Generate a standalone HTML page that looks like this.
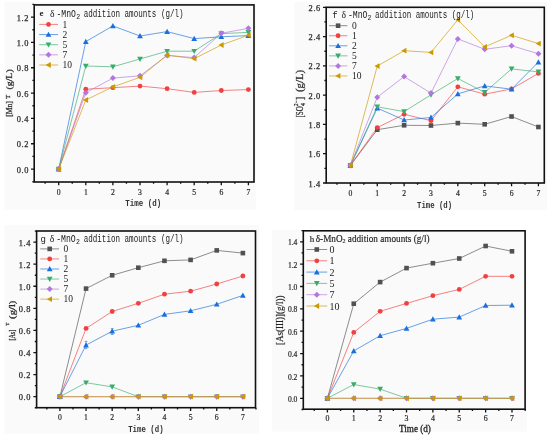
<!DOCTYPE html>
<html><head><meta charset="utf-8"><title>Figure</title>
<style>
html,body{margin:0;padding:0;background:#fff;}
svg{display:block;}
.ytk{font-family:"Liberation Serif",serif;font-size:8.4px;letter-spacing:0.6px;fill:#2a2a2a;stroke:#2a2a2a;stroke-width:0.25px;}
.ytkh{font-family:"Liberation Serif",serif;font-size:7.6px;fill:#2a2a2a;stroke:#2a2a2a;stroke-width:0.2px;}
.tk{font-family:"Liberation Serif",serif;font-size:7.7px;fill:#2a2a2a;stroke:#2a2a2a;stroke-width:0.2px;}
.tkh{font-family:"Liberation Serif",serif;font-size:7.9px;fill:#2a2a2a;stroke:#2a2a2a;stroke-width:0.2px;}
.lg{font-family:"Liberation Serif",serif;font-size:9.5px;fill:#222;}
.lgh{font-family:"Liberation Serif",serif;font-size:10px;fill:#222;}
.lt{font-family:"Liberation Mono","Noto Sans CJK SC",monospace;font-size:10.6px;fill:#222;}
.lth{font-family:"Liberation Serif",serif;font-size:10px;fill:#222;stroke:#222;stroke-width:0.15px;}
.b{font-weight:bold;font-family:"Liberation Serif",serif;font-size:9px;}
.at{font-family:"Liberation Mono",monospace;font-size:8.6px;font-weight:bold;fill:#333;}
.at2{font-family:"Liberation Mono",monospace;font-size:7.6px;fill:#333;}
.yt{font-family:"Liberation Serif",serif;font-size:8.8px;fill:#2a2a2a;stroke:#2a2a2a;stroke-width:0.25px;}
.dl{font-family:"Liberation Serif",serif;font-size:9.6px;fill:#222;}
.ath{font-family:"Liberation Serif",serif;font-size:9.5px;fill:#222;stroke:#222;stroke-width:0.3px;}
.ath2{font-family:"Liberation Serif",serif;font-size:9.5px;fill:#222;stroke:#222;stroke-width:0.15px;}
</style></head>
<body>
<svg width="550" height="437" viewBox="0 0 550 437">
<rect width="550" height="437" fill="#fff"/>
<rect x="4.5" y="2" width="251.5" height="207.6" fill="#fafafa"/>
<rect x="294.5" y="2" width="252.5" height="208" fill="#fafafa"/>
<rect x="4.5" y="225" width="254.5" height="208.5" fill="#fafafa"/>
<rect x="271.7" y="230" width="255.3" height="201.6" fill="#fafafa"/>
<polyline points="58.70,169.10 85.80,89.20 112.90,87.70 140.00,86.10 167.10,88.70 194.20,92.40 221.30,90.50 248.40,89.60" fill="none" stroke="#F14040" stroke-width="0.9" stroke-opacity="0.72"/>
<polyline points="58.70,169.10 85.80,41.60 112.90,25.90 140.00,36.00 167.10,31.60 194.20,38.60 221.30,36.80 248.40,35.60" fill="none" stroke="#1A6FDF" stroke-width="0.9" stroke-opacity="0.72"/>
<polyline points="58.70,169.10 85.80,66.00 112.90,66.80 140.00,59.00 167.10,51.20 194.20,51.20 221.30,33.60 248.40,32.40" fill="none" stroke="#37AD6B" stroke-width="0.9" stroke-opacity="0.72"/>
<polyline points="58.70,169.10 85.80,92.70 112.90,78.10 140.00,75.80 167.10,55.50 194.20,57.60 221.30,33.30 248.40,28.30" fill="none" stroke="#B177DE" stroke-width="0.9" stroke-opacity="0.72"/>
<polyline points="58.70,169.10 85.80,100.00 112.90,86.90 140.00,77.30 167.10,55.10 194.20,58.70 221.30,45.00 248.40,35.20" fill="none" stroke="#CC9900" stroke-width="0.9" stroke-opacity="0.72"/>
<circle cx="58.70" cy="169.10" r="2.42" fill="#F14040"/>
<circle cx="85.80" cy="89.20" r="2.42" fill="#F14040"/>
<circle cx="112.90" cy="87.70" r="2.42" fill="#F14040"/>
<circle cx="140.00" cy="86.10" r="2.42" fill="#F14040"/>
<circle cx="167.10" cy="88.70" r="2.42" fill="#F14040"/>
<circle cx="194.20" cy="92.40" r="2.42" fill="#F14040"/>
<circle cx="221.30" cy="90.50" r="2.42" fill="#F14040"/>
<circle cx="248.40" cy="89.60" r="2.42" fill="#F14040"/>
<polygon points="58.70,166.22 61.58,171.40 55.83,171.40" fill="#1A6FDF"/>
<polygon points="85.80,38.73 88.68,43.90 82.93,43.90" fill="#1A6FDF"/>
<polygon points="112.90,23.02 115.78,28.20 110.03,28.20" fill="#1A6FDF"/>
<polygon points="140.00,33.12 142.88,38.30 137.12,38.30" fill="#1A6FDF"/>
<polygon points="167.10,28.73 169.98,33.90 164.23,33.90" fill="#1A6FDF"/>
<polygon points="194.20,35.73 197.07,40.90 191.32,40.90" fill="#1A6FDF"/>
<polygon points="221.30,33.92 224.18,39.10 218.43,39.10" fill="#1A6FDF"/>
<polygon points="248.40,32.73 251.28,37.90 245.53,37.90" fill="#1A6FDF"/>
<polygon points="58.70,171.97 61.58,166.80 55.83,166.80" fill="#37AD6B"/>
<polygon points="85.80,68.88 88.68,63.70 82.93,63.70" fill="#37AD6B"/>
<polygon points="112.90,69.67 115.78,64.50 110.03,64.50" fill="#37AD6B"/>
<polygon points="140.00,61.88 142.88,56.70 137.12,56.70" fill="#37AD6B"/>
<polygon points="167.10,54.08 169.98,48.90 164.23,48.90" fill="#37AD6B"/>
<polygon points="194.20,54.08 197.07,48.90 191.32,48.90" fill="#37AD6B"/>
<polygon points="221.30,36.48 224.18,31.30 218.43,31.30" fill="#37AD6B"/>
<polygon points="248.40,35.27 251.28,30.10 245.53,30.10" fill="#37AD6B"/>
<polygon points="58.70,166.11 61.69,169.10 58.70,172.09 55.71,169.10" fill="#B177DE"/>
<polygon points="85.80,89.71 88.79,92.70 85.80,95.69 82.81,92.70" fill="#B177DE"/>
<polygon points="112.90,75.11 115.89,78.10 112.90,81.09 109.91,78.10" fill="#B177DE"/>
<polygon points="140.00,72.81 142.99,75.80 140.00,78.79 137.01,75.80" fill="#B177DE"/>
<polygon points="167.10,52.51 170.09,55.50 167.10,58.49 164.11,55.50" fill="#B177DE"/>
<polygon points="194.20,54.61 197.19,57.60 194.20,60.59 191.21,57.60" fill="#B177DE"/>
<polygon points="221.30,30.31 224.29,33.30 221.30,36.29 218.31,33.30" fill="#B177DE"/>
<polygon points="248.40,25.31 251.39,28.30 248.40,31.29 245.41,28.30" fill="#B177DE"/>
<polygon points="55.83,169.10 61.00,166.22 61.00,171.97" fill="#CC9900"/>
<polygon points="82.93,100.00 88.10,97.12 88.10,102.88" fill="#CC9900"/>
<polygon points="110.03,86.90 115.20,84.03 115.20,89.78" fill="#CC9900"/>
<polygon points="137.12,77.30 142.30,74.42 142.30,80.17" fill="#CC9900"/>
<polygon points="164.23,55.10 169.40,52.23 169.40,57.98" fill="#CC9900"/>
<polygon points="191.32,58.70 196.50,55.83 196.50,61.58" fill="#CC9900"/>
<polygon points="218.43,45.00 223.60,42.12 223.60,47.88" fill="#CC9900"/>
<polygon points="245.53,35.20 250.70,32.33 250.70,38.08" fill="#CC9900"/>
<rect x="34.20" y="4.90" width="219.80" height="177.10" fill="none" stroke="#111" stroke-width="1.6"/>
<text x="29.10" y="172.70" class="ytk" text-anchor="end">0.0</text>
<text x="29.10" y="147.37" class="ytk" text-anchor="end">0.2</text>
<text x="29.10" y="122.03" class="ytk" text-anchor="end">0.4</text>
<text x="29.10" y="96.70" class="ytk" text-anchor="end">0.6</text>
<text x="29.10" y="71.36" class="ytk" text-anchor="end">0.8</text>
<text x="29.10" y="46.03" class="ytk" text-anchor="end">1.0</text>
<text x="29.10" y="20.70" class="ytk" text-anchor="end">1.2</text>
<text x="58.70" y="195.00" class="tk" text-anchor="middle">0</text>
<text x="85.80" y="195.00" class="tk" text-anchor="middle">1</text>
<text x="112.90" y="195.00" class="tk" text-anchor="middle">2</text>
<text x="140.00" y="195.00" class="tk" text-anchor="middle">3</text>
<text x="167.10" y="195.00" class="tk" text-anchor="middle">4</text>
<text x="194.20" y="195.00" class="tk" text-anchor="middle">5</text>
<text x="221.30" y="195.00" class="tk" text-anchor="middle">6</text>
<text x="248.40" y="195.00" class="tk" text-anchor="middle">7</text>
<path d="M34.20,181.77h-1.8 M34.20,169.10h-3.2 M34.20,156.43h-1.8 M34.20,143.77h-3.2 M34.20,131.10h-1.8 M34.20,118.43h-3.2 M34.20,105.76h-1.8 M34.20,93.10h-3.2 M34.20,80.43h-1.8 M34.20,67.76h-3.2 M34.20,55.10h-1.8 M34.20,42.43h-3.2 M34.20,29.76h-1.8 M34.20,17.10h-3.2 M34.20,4.43h-1.8 M45.15,182.00v1.8 M58.70,182.00v3.2 M72.25,182.00v1.8 M85.80,182.00v3.2 M99.35,182.00v1.8 M112.90,182.00v3.2 M126.45,182.00v1.8 M140.00,182.00v3.2 M153.55,182.00v1.8 M167.10,182.00v3.2 M180.65,182.00v1.8 M194.20,182.00v3.2 M207.75,182.00v1.8 M221.30,182.00v3.2 M234.85,182.00v1.8 M248.40,182.00v3.2" stroke="#111" stroke-width="1.3" fill="none"/>
<line x1="39.2" y1="24.40" x2="58" y2="24.40" stroke="#F14040" stroke-width="0.9" stroke-opacity="0.72"/>
<circle cx="48.50" cy="24.40" r="2.42" fill="#F14040"/>
<text x="62.5" y="27.60" class="lg">1</text>
<line x1="39.2" y1="34.55" x2="58" y2="34.55" stroke="#1A6FDF" stroke-width="0.9" stroke-opacity="0.72"/>
<polygon points="48.50,31.67 51.38,36.85 45.62,36.85" fill="#1A6FDF"/>
<text x="62.5" y="37.75" class="lg">2</text>
<line x1="39.2" y1="44.70" x2="58" y2="44.70" stroke="#37AD6B" stroke-width="0.9" stroke-opacity="0.72"/>
<polygon points="48.50,47.58 51.38,42.40 45.62,42.40" fill="#37AD6B"/>
<text x="62.5" y="47.90" class="lg">5</text>
<line x1="39.2" y1="54.85" x2="58" y2="54.85" stroke="#B177DE" stroke-width="0.9" stroke-opacity="0.72"/>
<polygon points="48.50,51.86 51.49,54.85 48.50,57.84 45.51,54.85" fill="#B177DE"/>
<text x="62.5" y="58.05" class="lg">7</text>
<line x1="39.2" y1="65.00" x2="58" y2="65.00" stroke="#CC9900" stroke-width="0.9" stroke-opacity="0.72"/>
<polygon points="45.62,65.00 50.80,62.12 50.80,67.88" fill="#CC9900"/>
<text x="62.5" y="68.20" class="lg">10</text>
<text x="39.6" y="15.8" class="lt b">e</text><text x="50" y="17.2" class="dl">δ</text><text x="56.5" y="17.2" class="lt" textLength="19.5" lengthAdjust="spacingAndGlyphs">-MnO</text><text x="76.2" y="19.2" class="lt" style="font-size:6.5px">2</text><text x="83.7" y="17.2" class="lt" textLength="99.9" lengthAdjust="spacingAndGlyphs">addition amounts (g/l)</text>
<text x="143.3" y="206.3" class="at" text-anchor="middle" textLength="36" lengthAdjust="spacingAndGlyphs">Time (d)</text>
<g transform="translate(12.3,0) rotate(-90)" class="yt"><text x="-116.8" y="0" textLength="15.7" lengthAdjust="spacingAndGlyphs" style="font-size:8.6px">[Mn]</text><text x="-98.7" y="-2.3" style="font-size:6.4px">T</text><text x="-89.6" y="0" textLength="20.3" lengthAdjust="spacingAndGlyphs" style="font-size:8.6px">(g/L)</text></g>
<polyline points="350.40,165.40 377.26,129.70 404.12,125.30 430.98,125.50 457.84,123.10 484.70,124.30 511.56,116.50 538.42,127.00" fill="none" stroke="#515151" stroke-width="0.9" stroke-opacity="0.72"/>
<polyline points="350.40,165.40 377.26,127.60 404.12,114.30 430.98,120.70 457.84,86.80 484.70,94.20 511.56,88.90 538.42,73.40" fill="none" stroke="#F14040" stroke-width="0.9" stroke-opacity="0.72"/>
<polyline points="350.40,165.40 377.26,108.10 404.12,120.00 430.98,117.50 457.84,93.90 484.70,85.90 511.56,89.20 538.42,62.10" fill="none" stroke="#1A6FDF" stroke-width="0.9" stroke-opacity="0.72"/>
<polyline points="350.40,165.40 377.26,106.80 404.12,111.60 430.98,94.80 457.84,78.50 484.70,92.40 511.56,68.90 538.42,71.90" fill="none" stroke="#37AD6B" stroke-width="0.9" stroke-opacity="0.72"/>
<polyline points="350.40,165.40 377.26,97.20 404.12,76.60 430.98,93.10 457.84,38.90 484.70,49.30 511.56,45.70 538.42,53.75" fill="none" stroke="#B177DE" stroke-width="0.9" stroke-opacity="0.72"/>
<polyline points="350.40,165.40 377.26,66.10 404.12,50.70 430.98,52.40 457.84,19.80 484.70,46.90 511.56,35.30 538.42,43.60" fill="none" stroke="#CC9900" stroke-width="0.9" stroke-opacity="0.72"/>
<rect x="348.10" y="163.10" width="4.60" height="4.60" fill="#515151"/>
<rect x="374.96" y="127.40" width="4.60" height="4.60" fill="#515151"/>
<rect x="401.82" y="123.00" width="4.60" height="4.60" fill="#515151"/>
<rect x="428.68" y="123.20" width="4.60" height="4.60" fill="#515151"/>
<rect x="455.54" y="120.80" width="4.60" height="4.60" fill="#515151"/>
<rect x="482.40" y="122.00" width="4.60" height="4.60" fill="#515151"/>
<rect x="509.26" y="114.20" width="4.60" height="4.60" fill="#515151"/>
<rect x="536.12" y="124.70" width="4.60" height="4.60" fill="#515151"/>
<circle cx="350.40" cy="165.40" r="2.42" fill="#F14040"/>
<circle cx="377.26" cy="127.60" r="2.42" fill="#F14040"/>
<circle cx="404.12" cy="114.30" r="2.42" fill="#F14040"/>
<circle cx="430.98" cy="120.70" r="2.42" fill="#F14040"/>
<circle cx="457.84" cy="86.80" r="2.42" fill="#F14040"/>
<circle cx="484.70" cy="94.20" r="2.42" fill="#F14040"/>
<circle cx="511.56" cy="88.90" r="2.42" fill="#F14040"/>
<circle cx="538.42" cy="73.40" r="2.42" fill="#F14040"/>
<polygon points="350.40,162.53 353.27,167.70 347.52,167.70" fill="#1A6FDF"/>
<polygon points="377.26,105.22 380.13,110.40 374.38,110.40" fill="#1A6FDF"/>
<polygon points="404.12,117.12 407.00,122.30 401.25,122.30" fill="#1A6FDF"/>
<polygon points="430.98,114.62 433.85,119.80 428.10,119.80" fill="#1A6FDF"/>
<polygon points="457.84,91.03 460.71,96.20 454.96,96.20" fill="#1A6FDF"/>
<polygon points="484.70,83.03 487.57,88.20 481.82,88.20" fill="#1A6FDF"/>
<polygon points="511.56,86.33 514.43,91.50 508.68,91.50" fill="#1A6FDF"/>
<polygon points="538.42,59.23 541.29,64.40 535.54,64.40" fill="#1A6FDF"/>
<polygon points="350.40,168.28 353.27,163.10 347.52,163.10" fill="#37AD6B"/>
<polygon points="377.26,109.67 380.13,104.50 374.38,104.50" fill="#37AD6B"/>
<polygon points="404.12,114.47 407.00,109.30 401.25,109.30" fill="#37AD6B"/>
<polygon points="430.98,97.67 433.85,92.50 428.10,92.50" fill="#37AD6B"/>
<polygon points="457.84,81.38 460.71,76.20 454.96,76.20" fill="#37AD6B"/>
<polygon points="484.70,95.28 487.57,90.10 481.82,90.10" fill="#37AD6B"/>
<polygon points="511.56,71.78 514.43,66.60 508.68,66.60" fill="#37AD6B"/>
<polygon points="538.42,74.78 541.29,69.60 535.54,69.60" fill="#37AD6B"/>
<polygon points="350.40,162.41 353.39,165.40 350.40,168.39 347.41,165.40" fill="#B177DE"/>
<polygon points="377.26,94.21 380.25,97.20 377.26,100.19 374.27,97.20" fill="#B177DE"/>
<polygon points="404.12,73.61 407.11,76.60 404.12,79.59 401.13,76.60" fill="#B177DE"/>
<polygon points="430.98,90.11 433.97,93.10 430.98,96.09 427.99,93.10" fill="#B177DE"/>
<polygon points="457.84,35.91 460.83,38.90 457.84,41.89 454.85,38.90" fill="#B177DE"/>
<polygon points="484.70,46.31 487.69,49.30 484.70,52.29 481.71,49.30" fill="#B177DE"/>
<polygon points="511.56,42.71 514.55,45.70 511.56,48.69 508.57,45.70" fill="#B177DE"/>
<polygon points="538.42,50.76 541.41,53.75 538.42,56.74 535.43,53.75" fill="#B177DE"/>
<polygon points="347.52,165.40 352.70,162.53 352.70,168.28" fill="#CC9900"/>
<polygon points="374.38,66.10 379.56,63.22 379.56,68.97" fill="#CC9900"/>
<polygon points="401.25,50.70 406.42,47.83 406.42,53.58" fill="#CC9900"/>
<polygon points="428.10,52.40 433.28,49.52 433.28,55.27" fill="#CC9900"/>
<polygon points="454.96,19.80 460.14,16.93 460.14,22.68" fill="#CC9900"/>
<polygon points="481.82,46.90 487.00,44.02 487.00,49.77" fill="#CC9900"/>
<polygon points="508.68,35.30 513.86,32.42 513.86,38.17" fill="#CC9900"/>
<polygon points="535.54,43.60 540.72,40.73 540.72,46.48" fill="#CC9900"/>
<rect x="326.20" y="7.30" width="218.10" height="175.70" fill="none" stroke="#111" stroke-width="1.6"/>
<text x="320.90" y="186.60" class="ytk" text-anchor="end">1.4</text>
<text x="320.90" y="157.32" class="ytk" text-anchor="end">1.6</text>
<text x="320.90" y="128.04" class="ytk" text-anchor="end">1.8</text>
<text x="320.90" y="98.76" class="ytk" text-anchor="end">2.0</text>
<text x="320.90" y="69.48" class="ytk" text-anchor="end">2.2</text>
<text x="320.90" y="40.20" class="ytk" text-anchor="end">2.4</text>
<text x="320.90" y="10.92" class="ytk" text-anchor="end">2.6</text>
<text x="350.40" y="195.50" class="tk" text-anchor="middle">0</text>
<text x="377.26" y="195.50" class="tk" text-anchor="middle">1</text>
<text x="404.12" y="195.50" class="tk" text-anchor="middle">2</text>
<text x="430.98" y="195.50" class="tk" text-anchor="middle">3</text>
<text x="457.84" y="195.50" class="tk" text-anchor="middle">4</text>
<text x="484.70" y="195.50" class="tk" text-anchor="middle">5</text>
<text x="511.56" y="195.50" class="tk" text-anchor="middle">6</text>
<text x="538.42" y="195.50" class="tk" text-anchor="middle">7</text>
<path d="M326.20,183.00h-3.2 M326.20,168.36h-1.8 M326.20,153.72h-3.2 M326.20,139.08h-1.8 M326.20,124.44h-3.2 M326.20,109.80h-1.8 M326.20,95.16h-3.2 M326.20,80.52h-1.8 M326.20,65.88h-3.2 M326.20,51.24h-1.8 M326.20,36.60h-3.2 M326.20,21.96h-1.8 M326.20,7.32h-3.2 M336.97,183.00v1.8 M350.40,183.00v3.2 M363.83,183.00v1.8 M377.26,183.00v3.2 M390.69,183.00v1.8 M404.12,183.00v3.2 M417.55,183.00v1.8 M430.98,183.00v3.2 M444.41,183.00v1.8 M457.84,183.00v3.2 M471.27,183.00v1.8 M484.70,183.00v3.2 M498.13,183.00v1.8 M511.56,183.00v3.2 M524.99,183.00v1.8 M538.42,183.00v3.2" stroke="#111" stroke-width="1.3" fill="none"/>
<line x1="329" y1="25.70" x2="347.4" y2="25.70" stroke="#515151" stroke-width="0.9" stroke-opacity="0.72"/>
<rect x="335.80" y="23.40" width="4.60" height="4.60" fill="#515151"/>
<text x="351.9" y="28.90" class="lg">0</text>
<line x1="329" y1="35.75" x2="347.4" y2="35.75" stroke="#F14040" stroke-width="0.9" stroke-opacity="0.72"/>
<circle cx="338.10" cy="35.75" r="2.42" fill="#F14040"/>
<text x="351.9" y="38.95" class="lg">1</text>
<line x1="329" y1="45.80" x2="347.4" y2="45.80" stroke="#1A6FDF" stroke-width="0.9" stroke-opacity="0.72"/>
<polygon points="338.10,42.92 340.98,48.10 335.23,48.10" fill="#1A6FDF"/>
<text x="351.9" y="49.00" class="lg">2</text>
<line x1="329" y1="55.85" x2="347.4" y2="55.85" stroke="#37AD6B" stroke-width="0.9" stroke-opacity="0.72"/>
<polygon points="338.10,58.73 340.98,53.55 335.23,53.55" fill="#37AD6B"/>
<text x="351.9" y="59.05" class="lg">5</text>
<line x1="329" y1="65.90" x2="347.4" y2="65.90" stroke="#B177DE" stroke-width="0.9" stroke-opacity="0.72"/>
<polygon points="338.10,62.91 341.09,65.90 338.10,68.89 335.11,65.90" fill="#B177DE"/>
<text x="351.9" y="69.10" class="lg">7</text>
<line x1="329" y1="75.95" x2="347.4" y2="75.95" stroke="#CC9900" stroke-width="0.9" stroke-opacity="0.72"/>
<polygon points="335.23,75.95 340.40,73.08 340.40,78.83" fill="#CC9900"/>
<text x="351.9" y="79.15" class="lg">10</text>
<text x="332.2" y="18.4" class="lt" style="font-size:9px">f</text><text x="341.4" y="18.4" class="dl">δ</text><text x="347.9" y="18.4" class="lt" textLength="19.5" lengthAdjust="spacingAndGlyphs">-MnO</text><text x="367.59999999999997" y="20.4" class="lt" style="font-size:6.5px">2</text><text x="375.1" y="18.4" class="lt" textLength="99.3" lengthAdjust="spacingAndGlyphs">addition amounts (g/l)</text>
<text x="434.6" y="207.7" class="at" text-anchor="middle" textLength="35" lengthAdjust="spacingAndGlyphs">Time (d)</text>
<g transform="translate(302.6,0) rotate(-90)" class="yt"><text x="-117.5" y="0" textLength="11.4" lengthAdjust="spacingAndGlyphs" style="font-size:9.8px">[SO</text><text x="-105.9" y="1.9" style="font-size:5.8px">4</text><text x="-105.9" y="-4.4" textLength="5.4" lengthAdjust="spacingAndGlyphs" style="font-size:5.8px">2−</text><text x="-99.9" y="0" style="font-size:9.8px">]</text><text x="-92.0" y="0" textLength="22.2" lengthAdjust="spacingAndGlyphs" style="font-size:9.8px">(g/L)</text></g>
<polyline points="59.90,396.70 86.04,288.60 112.18,275.30 138.32,267.70 164.46,260.80 190.60,259.90 216.74,250.40 242.88,253.10" fill="none" stroke="#515151" stroke-width="0.9" stroke-opacity="0.72"/>
<polyline points="59.90,396.70 86.04,328.40 112.18,311.50 138.32,303.30 164.46,294.20 190.60,291.20 216.74,284.00 242.88,276.00" fill="none" stroke="#F14040" stroke-width="0.9" stroke-opacity="0.72"/>
<polyline points="59.90,396.70 86.04,345.10 112.18,331.20 138.32,325.30 164.46,314.40 190.60,310.80 216.74,304.30 242.88,295.40" fill="none" stroke="#1A6FDF" stroke-width="0.9" stroke-opacity="0.72"/>
<polyline points="59.90,396.70 86.04,382.70 112.18,386.90 138.32,396.70 164.46,396.70 190.60,396.70 216.74,396.70 242.88,396.70" fill="none" stroke="#37AD6B" stroke-width="0.9" stroke-opacity="0.72"/>
<polyline points="59.90,396.70 86.04,396.70 112.18,396.70 138.32,396.70 164.46,396.70 190.60,396.70 216.74,396.70 242.88,396.70" fill="none" stroke="#B177DE" stroke-width="0.9" stroke-opacity="0.72"/>
<polyline points="59.90,396.70 86.04,396.70 112.18,396.70 138.32,396.70 164.46,396.70 190.60,396.70 216.74,396.70 242.88,396.70" fill="none" stroke="#CC9900" stroke-width="0.9" stroke-opacity="0.72"/>
<rect x="57.60" y="394.40" width="4.60" height="4.60" fill="#515151"/>
<rect x="83.74" y="286.30" width="4.60" height="4.60" fill="#515151"/>
<rect x="109.88" y="273.00" width="4.60" height="4.60" fill="#515151"/>
<rect x="136.02" y="265.40" width="4.60" height="4.60" fill="#515151"/>
<rect x="162.16" y="258.50" width="4.60" height="4.60" fill="#515151"/>
<rect x="188.30" y="257.60" width="4.60" height="4.60" fill="#515151"/>
<rect x="214.44" y="248.10" width="4.60" height="4.60" fill="#515151"/>
<rect x="240.58" y="250.80" width="4.60" height="4.60" fill="#515151"/>
<circle cx="59.90" cy="396.70" r="2.42" fill="#F14040"/>
<circle cx="86.04" cy="328.40" r="2.42" fill="#F14040"/>
<circle cx="112.18" cy="311.50" r="2.42" fill="#F14040"/>
<circle cx="138.32" cy="303.30" r="2.42" fill="#F14040"/>
<circle cx="164.46" cy="294.20" r="2.42" fill="#F14040"/>
<circle cx="190.60" cy="291.20" r="2.42" fill="#F14040"/>
<circle cx="216.74" cy="284.00" r="2.42" fill="#F14040"/>
<circle cx="242.88" cy="276.00" r="2.42" fill="#F14040"/>
<polygon points="59.90,393.82 62.77,399.00 57.02,399.00" fill="#1A6FDF"/>
<polygon points="86.04,342.23 88.91,347.40 83.16,347.40" fill="#1A6FDF"/>
<polygon points="112.18,328.32 115.06,333.50 109.31,333.50" fill="#1A6FDF"/>
<polygon points="138.32,322.43 141.19,327.60 135.44,327.60" fill="#1A6FDF"/>
<polygon points="164.46,311.52 167.34,316.70 161.59,316.70" fill="#1A6FDF"/>
<polygon points="190.60,307.93 193.47,313.10 187.72,313.10" fill="#1A6FDF"/>
<polygon points="216.74,301.43 219.62,306.60 213.87,306.60" fill="#1A6FDF"/>
<polygon points="242.88,292.52 245.76,297.70 240.01,297.70" fill="#1A6FDF"/>
<polygon points="59.90,399.57 62.77,394.40 57.02,394.40" fill="#37AD6B"/>
<polygon points="86.04,385.57 88.91,380.40 83.16,380.40" fill="#37AD6B"/>
<polygon points="112.18,389.77 115.06,384.60 109.31,384.60" fill="#37AD6B"/>
<polygon points="138.32,399.57 141.19,394.40 135.44,394.40" fill="#37AD6B"/>
<polygon points="164.46,399.57 167.34,394.40 161.59,394.40" fill="#37AD6B"/>
<polygon points="190.60,399.57 193.47,394.40 187.72,394.40" fill="#37AD6B"/>
<polygon points="216.74,399.57 219.62,394.40 213.87,394.40" fill="#37AD6B"/>
<polygon points="242.88,399.57 245.76,394.40 240.01,394.40" fill="#37AD6B"/>
<polygon points="59.90,393.71 62.89,396.70 59.90,399.69 56.91,396.70" fill="#B177DE"/>
<polygon points="86.04,393.71 89.03,396.70 86.04,399.69 83.05,396.70" fill="#B177DE"/>
<polygon points="112.18,393.71 115.17,396.70 112.18,399.69 109.19,396.70" fill="#B177DE"/>
<polygon points="138.32,393.71 141.31,396.70 138.32,399.69 135.33,396.70" fill="#B177DE"/>
<polygon points="164.46,393.71 167.45,396.70 164.46,399.69 161.47,396.70" fill="#B177DE"/>
<polygon points="190.60,393.71 193.59,396.70 190.60,399.69 187.61,396.70" fill="#B177DE"/>
<polygon points="216.74,393.71 219.73,396.70 216.74,399.69 213.75,396.70" fill="#B177DE"/>
<polygon points="242.88,393.71 245.87,396.70 242.88,399.69 239.89,396.70" fill="#B177DE"/>
<polygon points="57.02,396.70 62.20,393.82 62.20,399.57" fill="#CC9900"/>
<polygon points="83.16,396.70 88.34,393.82 88.34,399.57" fill="#CC9900"/>
<polygon points="109.31,396.70 114.48,393.82 114.48,399.57" fill="#CC9900"/>
<polygon points="135.44,396.70 140.62,393.82 140.62,399.57" fill="#CC9900"/>
<polygon points="161.59,396.70 166.76,393.82 166.76,399.57" fill="#CC9900"/>
<polygon points="187.72,396.70 192.90,393.82 192.90,399.57" fill="#CC9900"/>
<polygon points="213.87,396.70 219.04,393.82 219.04,399.57" fill="#CC9900"/>
<polygon points="240.01,396.70 245.18,393.82 245.18,399.57" fill="#CC9900"/>
<rect x="36.60" y="231.00" width="218.90" height="176.70" fill="none" stroke="#111" stroke-width="1.6"/>
<text x="31.00" y="400.30" class="ytk" text-anchor="end">0.0</text>
<text x="31.00" y="378.21" class="ytk" text-anchor="end">0.2</text>
<text x="31.00" y="356.13" class="ytk" text-anchor="end">0.4</text>
<text x="31.00" y="334.04" class="ytk" text-anchor="end">0.6</text>
<text x="31.00" y="311.96" class="ytk" text-anchor="end">0.8</text>
<text x="31.00" y="289.87" class="ytk" text-anchor="end">1.0</text>
<text x="31.00" y="267.78" class="ytk" text-anchor="end">1.2</text>
<text x="31.00" y="245.70" class="ytk" text-anchor="end">1.4</text>
<text x="59.90" y="420.30" class="tk" text-anchor="middle">0</text>
<text x="86.04" y="420.30" class="tk" text-anchor="middle">1</text>
<text x="112.18" y="420.30" class="tk" text-anchor="middle">2</text>
<text x="138.32" y="420.30" class="tk" text-anchor="middle">3</text>
<text x="164.46" y="420.30" class="tk" text-anchor="middle">4</text>
<text x="190.60" y="420.30" class="tk" text-anchor="middle">5</text>
<text x="216.74" y="420.30" class="tk" text-anchor="middle">6</text>
<text x="242.88" y="420.30" class="tk" text-anchor="middle">7</text>
<path d="M36.60,407.74h-1.8 M36.60,396.70h-3.2 M36.60,385.66h-1.8 M36.60,374.61h-3.2 M36.60,363.57h-1.8 M36.60,352.53h-3.2 M36.60,341.49h-1.8 M36.60,330.44h-3.2 M36.60,319.40h-1.8 M36.60,308.36h-3.2 M36.60,297.31h-1.8 M36.60,286.27h-3.2 M36.60,275.23h-1.8 M36.60,264.18h-3.2 M36.60,253.14h-1.8 M36.60,242.10h-3.2 M36.60,231.05h-1.8 M46.83,407.70v1.8 M59.90,407.70v3.2 M72.97,407.70v1.8 M86.04,407.70v3.2 M99.11,407.70v1.8 M112.18,407.70v3.2 M125.25,407.70v1.8 M138.32,407.70v3.2 M151.39,407.70v1.8 M164.46,407.70v3.2 M177.53,407.70v1.8 M190.60,407.70v3.2 M203.67,407.70v1.8 M216.74,407.70v3.2 M229.81,407.70v1.8 M242.88,407.70v3.2 M255.95,407.70v1.8" stroke="#111" stroke-width="1.3" fill="none"/>
<line x1="40.3" y1="248.90" x2="59" y2="248.90" stroke="#515151" stroke-width="0.9" stroke-opacity="0.72"/>
<rect x="47.40" y="246.60" width="4.60" height="4.60" fill="#515151"/>
<text x="63.5" y="252.10" class="lg">0</text>
<line x1="40.3" y1="258.95" x2="59" y2="258.95" stroke="#F14040" stroke-width="0.9" stroke-opacity="0.72"/>
<circle cx="49.70" cy="258.95" r="2.42" fill="#F14040"/>
<text x="63.5" y="262.15" class="lg">1</text>
<line x1="40.3" y1="269.00" x2="59" y2="269.00" stroke="#1A6FDF" stroke-width="0.9" stroke-opacity="0.72"/>
<polygon points="49.70,266.12 52.58,271.30 46.83,271.30" fill="#1A6FDF"/>
<text x="63.5" y="272.20" class="lg">2</text>
<line x1="40.3" y1="279.05" x2="59" y2="279.05" stroke="#37AD6B" stroke-width="0.9" stroke-opacity="0.72"/>
<polygon points="49.70,281.93 52.58,276.75 46.83,276.75" fill="#37AD6B"/>
<text x="63.5" y="282.25" class="lg">5</text>
<line x1="40.3" y1="289.10" x2="59" y2="289.10" stroke="#B177DE" stroke-width="0.9" stroke-opacity="0.72"/>
<polygon points="49.70,286.11 52.69,289.10 49.70,292.09 46.71,289.10" fill="#B177DE"/>
<text x="63.5" y="292.30" class="lg">7</text>
<line x1="40.3" y1="299.15" x2="59" y2="299.15" stroke="#CC9900" stroke-width="0.9" stroke-opacity="0.72"/>
<polygon points="46.83,299.15 52.00,296.27 52.00,302.02" fill="#CC9900"/>
<text x="63.5" y="302.35" class="lg">10</text>
<text x="40.4" y="241.9" class="lt" style="font-size:9px">g</text><text x="49.7" y="241.9" class="dl">δ</text><text x="56.2" y="241.9" class="lt" textLength="19.5" lengthAdjust="spacingAndGlyphs">-MnO</text><text x="75.9" y="243.9" class="lt" style="font-size:6.5px">2</text><text x="83.7" y="241.9" class="lt" textLength="99.9" lengthAdjust="spacingAndGlyphs">addition amounts (g/l)</text>
<path d="M86.0,341.4V348.6M84.6,341.4h2.8M84.6,348.6h2.8M112.2,328.6V334.5M110.8,328.6h2.8M110.8,334.5h2.8" stroke="#1A6FDF" stroke-width="0.7" stroke-opacity="0.8" fill="none"/>
<text x="145.9" y="431.6" class="at" text-anchor="middle" textLength="35.4" lengthAdjust="spacingAndGlyphs">Time (d)</text>
<g transform="translate(15.2,0) rotate(-90)" class="yt" style="font-size:7.6px"><text x="-340.6" y="0" textLength="10.9" lengthAdjust="spacingAndGlyphs" style="font-size:7.6px">[As]</text><text x="-325.8" y="-5.8" style="font-size:5px">T</text><text x="-318.9" y="0" textLength="18.3" lengthAdjust="spacingAndGlyphs" style="font-size:7.6px">(g/l)</text></g>
<polyline points="327.40,398.30 353.77,303.70 380.14,282.10 406.51,268.10 432.88,263.20 459.25,258.50 485.62,246.00 511.99,251.30" fill="none" stroke="#515151" stroke-width="0.9" stroke-opacity="0.72"/>
<polyline points="327.40,398.30 353.77,332.40 380.14,311.30 406.51,303.40 432.88,295.70 459.25,289.40 485.62,276.30 511.99,276.30" fill="none" stroke="#F14040" stroke-width="0.9" stroke-opacity="0.72"/>
<polyline points="327.40,398.30 353.77,350.90 380.14,335.70 406.51,328.40 432.88,319.20 459.25,317.10 485.62,305.50 511.99,305.20" fill="none" stroke="#1A6FDF" stroke-width="0.9" stroke-opacity="0.72"/>
<polyline points="327.40,398.30 353.77,384.50 380.14,389.10 406.51,398.30 432.88,398.30 459.25,398.30 485.62,398.30 511.99,398.30" fill="none" stroke="#37AD6B" stroke-width="0.9" stroke-opacity="0.72"/>
<polyline points="327.40,398.30 353.77,398.30 380.14,398.30 406.51,398.30 432.88,398.30 459.25,398.30 485.62,398.30 511.99,398.30" fill="none" stroke="#B177DE" stroke-width="0.9" stroke-opacity="0.72"/>
<polyline points="327.40,398.30 353.77,398.30 380.14,398.30 406.51,398.30 432.88,398.30 459.25,398.30 485.62,398.30 511.99,398.30" fill="none" stroke="#CC9900" stroke-width="0.9" stroke-opacity="0.72"/>
<rect x="325.10" y="396.00" width="4.60" height="4.60" fill="#515151"/>
<rect x="351.47" y="301.40" width="4.60" height="4.60" fill="#515151"/>
<rect x="377.84" y="279.80" width="4.60" height="4.60" fill="#515151"/>
<rect x="404.21" y="265.80" width="4.60" height="4.60" fill="#515151"/>
<rect x="430.58" y="260.90" width="4.60" height="4.60" fill="#515151"/>
<rect x="456.95" y="256.20" width="4.60" height="4.60" fill="#515151"/>
<rect x="483.32" y="243.70" width="4.60" height="4.60" fill="#515151"/>
<rect x="509.69" y="249.00" width="4.60" height="4.60" fill="#515151"/>
<circle cx="327.40" cy="398.30" r="2.42" fill="#F14040"/>
<circle cx="353.77" cy="332.40" r="2.42" fill="#F14040"/>
<circle cx="380.14" cy="311.30" r="2.42" fill="#F14040"/>
<circle cx="406.51" cy="303.40" r="2.42" fill="#F14040"/>
<circle cx="432.88" cy="295.70" r="2.42" fill="#F14040"/>
<circle cx="459.25" cy="289.40" r="2.42" fill="#F14040"/>
<circle cx="485.62" cy="276.30" r="2.42" fill="#F14040"/>
<circle cx="511.99" cy="276.30" r="2.42" fill="#F14040"/>
<polygon points="327.40,395.43 330.27,400.60 324.52,400.60" fill="#1A6FDF"/>
<polygon points="353.77,348.02 356.64,353.20 350.89,353.20" fill="#1A6FDF"/>
<polygon points="380.14,332.82 383.01,338.00 377.26,338.00" fill="#1A6FDF"/>
<polygon points="406.51,325.52 409.38,330.70 403.63,330.70" fill="#1A6FDF"/>
<polygon points="432.88,316.32 435.75,321.50 430.00,321.50" fill="#1A6FDF"/>
<polygon points="459.25,314.23 462.12,319.40 456.38,319.40" fill="#1A6FDF"/>
<polygon points="485.62,302.62 488.50,307.80 482.75,307.80" fill="#1A6FDF"/>
<polygon points="511.99,302.32 514.87,307.50 509.12,307.50" fill="#1A6FDF"/>
<polygon points="327.40,401.18 330.27,396.00 324.52,396.00" fill="#37AD6B"/>
<polygon points="353.77,387.38 356.64,382.20 350.89,382.20" fill="#37AD6B"/>
<polygon points="380.14,391.98 383.01,386.80 377.26,386.80" fill="#37AD6B"/>
<polygon points="406.51,401.18 409.38,396.00 403.63,396.00" fill="#37AD6B"/>
<polygon points="432.88,401.18 435.75,396.00 430.00,396.00" fill="#37AD6B"/>
<polygon points="459.25,401.18 462.12,396.00 456.38,396.00" fill="#37AD6B"/>
<polygon points="485.62,401.18 488.50,396.00 482.75,396.00" fill="#37AD6B"/>
<polygon points="511.99,401.18 514.87,396.00 509.12,396.00" fill="#37AD6B"/>
<polygon points="327.40,395.31 330.39,398.30 327.40,401.29 324.41,398.30" fill="#B177DE"/>
<polygon points="353.77,395.31 356.76,398.30 353.77,401.29 350.78,398.30" fill="#B177DE"/>
<polygon points="380.14,395.31 383.13,398.30 380.14,401.29 377.15,398.30" fill="#B177DE"/>
<polygon points="406.51,395.31 409.50,398.30 406.51,401.29 403.52,398.30" fill="#B177DE"/>
<polygon points="432.88,395.31 435.87,398.30 432.88,401.29 429.89,398.30" fill="#B177DE"/>
<polygon points="459.25,395.31 462.24,398.30 459.25,401.29 456.26,398.30" fill="#B177DE"/>
<polygon points="485.62,395.31 488.61,398.30 485.62,401.29 482.63,398.30" fill="#B177DE"/>
<polygon points="511.99,395.31 514.98,398.30 511.99,401.29 509.00,398.30" fill="#B177DE"/>
<polygon points="324.52,398.30 329.70,395.43 329.70,401.18" fill="#CC9900"/>
<polygon points="350.89,398.30 356.07,395.43 356.07,401.18" fill="#CC9900"/>
<polygon points="377.26,398.30 382.44,395.43 382.44,401.18" fill="#CC9900"/>
<polygon points="403.63,398.30 408.81,395.43 408.81,401.18" fill="#CC9900"/>
<polygon points="430.00,398.30 435.18,395.43 435.18,401.18" fill="#CC9900"/>
<polygon points="456.38,398.30 461.55,395.43 461.55,401.18" fill="#CC9900"/>
<polygon points="482.75,398.30 487.92,395.43 487.92,401.18" fill="#CC9900"/>
<polygon points="509.12,398.30 514.29,395.43 514.29,401.18" fill="#CC9900"/>
<rect x="303.30" y="230.80" width="221.80" height="178.40" fill="none" stroke="#111" stroke-width="1.6"/>
<text x="297.40" y="401.90" class="ytkh" text-anchor="end">0.0</text>
<text x="297.40" y="379.54" class="ytkh" text-anchor="end">0.2</text>
<text x="297.40" y="357.18" class="ytkh" text-anchor="end">0.4</text>
<text x="297.40" y="334.82" class="ytkh" text-anchor="end">0.6</text>
<text x="297.40" y="312.46" class="ytkh" text-anchor="end">0.8</text>
<text x="297.40" y="290.10" class="ytkh" text-anchor="end">1.0</text>
<text x="297.40" y="267.74" class="ytkh" text-anchor="end">1.2</text>
<text x="297.40" y="245.38" class="ytkh" text-anchor="end">1.4</text>
<text x="327.40" y="421.30" class="tkh" text-anchor="middle">0</text>
<text x="353.77" y="421.30" class="tkh" text-anchor="middle">1</text>
<text x="380.14" y="421.30" class="tkh" text-anchor="middle">2</text>
<text x="406.51" y="421.30" class="tkh" text-anchor="middle">3</text>
<text x="432.88" y="421.30" class="tkh" text-anchor="middle">4</text>
<text x="459.25" y="421.30" class="tkh" text-anchor="middle">5</text>
<text x="485.62" y="421.30" class="tkh" text-anchor="middle">6</text>
<text x="511.99" y="421.30" class="tkh" text-anchor="middle">7</text>
<path d="M303.30,409.48h-1.8 M303.30,398.30h-3.2 M303.30,387.12h-1.8 M303.30,375.94h-3.2 M303.30,364.76h-1.8 M303.30,353.58h-3.2 M303.30,342.40h-1.8 M303.30,331.22h-3.2 M303.30,320.04h-1.8 M303.30,308.86h-3.2 M303.30,297.68h-1.8 M303.30,286.50h-3.2 M303.30,275.32h-1.8 M303.30,264.14h-3.2 M303.30,252.96h-1.8 M303.30,241.78h-3.2 M303.30,230.60h-1.8 M314.21,409.20v1.8 M327.40,409.20v3.2 M340.58,409.20v1.8 M353.77,409.20v3.2 M366.95,409.20v1.8 M380.14,409.20v3.2 M393.32,409.20v1.8 M406.51,409.20v3.2 M419.69,409.20v1.8 M432.88,409.20v3.2 M446.06,409.20v1.8 M459.25,409.20v3.2 M472.43,409.20v1.8 M485.62,409.20v3.2 M498.80,409.20v1.8 M511.99,409.20v3.2 M525.17,409.20v1.8" stroke="#111" stroke-width="1.3" fill="none"/>
<line x1="306.4" y1="249.50" x2="327.2" y2="249.50" stroke="#515151" stroke-width="0.9" stroke-opacity="0.72"/>
<rect x="314.50" y="247.20" width="4.60" height="4.60" fill="#515151"/>
<text x="329.6" y="253.00" class="lgh">0</text>
<line x1="306.4" y1="260.80" x2="327.2" y2="260.80" stroke="#F14040" stroke-width="0.9" stroke-opacity="0.72"/>
<circle cx="316.80" cy="260.80" r="2.42" fill="#F14040"/>
<text x="329.6" y="264.30" class="lgh">1</text>
<line x1="306.4" y1="272.10" x2="327.2" y2="272.10" stroke="#1A6FDF" stroke-width="0.9" stroke-opacity="0.72"/>
<polygon points="316.80,269.23 319.68,274.40 313.93,274.40" fill="#1A6FDF"/>
<text x="329.6" y="275.60" class="lgh">2</text>
<line x1="306.4" y1="283.40" x2="327.2" y2="283.40" stroke="#37AD6B" stroke-width="0.9" stroke-opacity="0.72"/>
<polygon points="316.80,286.27 319.68,281.10 313.93,281.10" fill="#37AD6B"/>
<text x="329.6" y="286.90" class="lgh">5</text>
<line x1="306.4" y1="294.70" x2="327.2" y2="294.70" stroke="#B177DE" stroke-width="0.9" stroke-opacity="0.72"/>
<polygon points="316.80,291.71 319.79,294.70 316.80,297.69 313.81,294.70" fill="#B177DE"/>
<text x="329.6" y="298.20" class="lgh">7</text>
<line x1="306.4" y1="306.00" x2="327.2" y2="306.00" stroke="#CC9900" stroke-width="0.9" stroke-opacity="0.72"/>
<polygon points="313.93,306.00 319.10,303.12 319.10,308.88" fill="#CC9900"/>
<text x="329.6" y="309.50" class="lgh">10</text>
<text x="309.8" y="241.6" class="lth" style="font-size:9px">h</text><text x="315.8" y="241.6" class="lth" textLength="113.7" lengthAdjust="spacingAndGlyphs">δ-MnO<tspan dy="1.8" style="font-size:6.5px">2</tspan><tspan dy="-1.8"> addition amounts (g/l)</tspan></text>
<text x="415" y="431.5" class="ath" text-anchor="middle" textLength="31.8" lengthAdjust="spacingAndGlyphs">Time (d)</text>
<text transform="translate(282.6,320.2) rotate(-90)" class="ath2" text-anchor="middle" textLength="49.4" lengthAdjust="spacingAndGlyphs">[As(III)](g/l))</text>
</svg>
</body></html>
